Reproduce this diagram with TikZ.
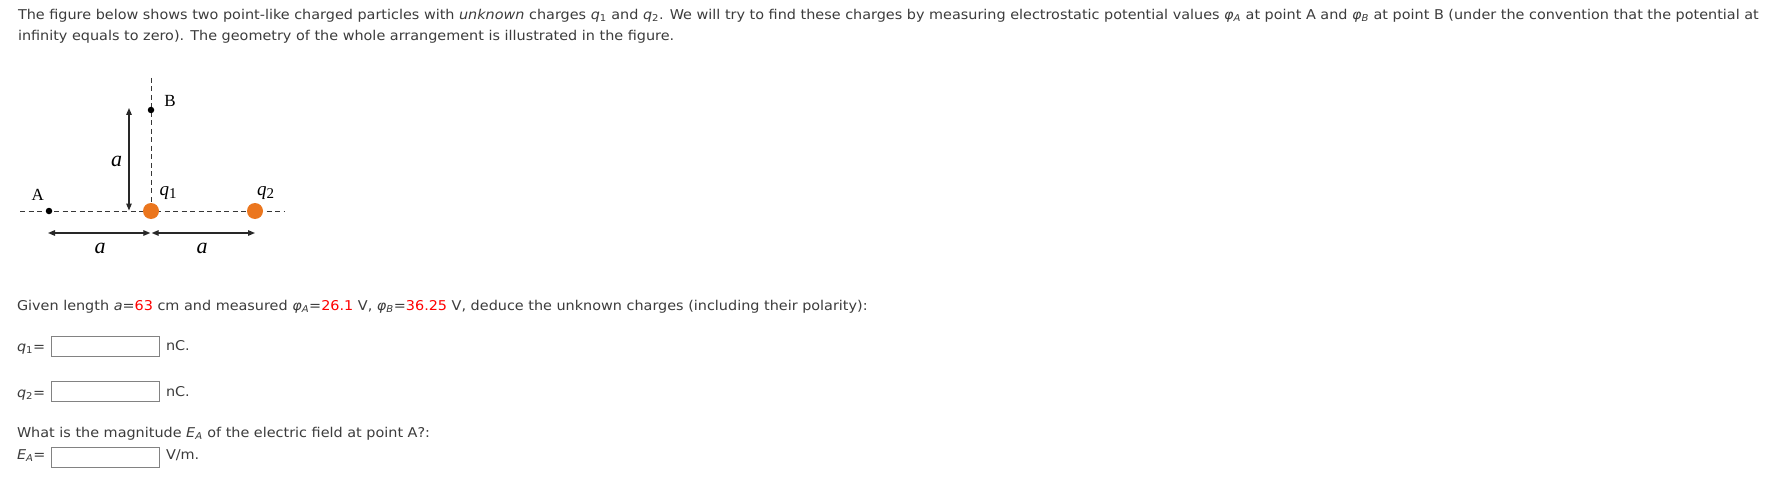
\documentclass[tikz,border=0pt]{standalone}
\usepackage{fontspec}
\setmainfont{DejaVu Sans}[FakeStretch=1.067]
\newfontfamily\figfont{Liberation Serif}
\usetikzlibrary{arrows.meta}
\definecolor{txt}{RGB}{60,60,60}
\definecolor{numred}{RGB}{255,0,0}
\definecolor{orng}{RGB}{235,118,30}
\definecolor{boxgray}{RGB}{130,130,130}
\definecolor{figline}{RGB}{40,40,40}
\definecolor{dashcol}{RGB}{55,55,55}
\newcommand\sbs[1]{\textsubscript{#1}}
\newcommand\isub[1]{\textsubscript{\itshape #1}}
\tikzset{
  body/.style={anchor=base west, text=txt, font=\fontsize{13.5}{15}\selectfont},
  ansbox/.style={draw=boxgray, line width=1pt, minimum width=108pt, minimum height=20pt, anchor=north west},
  dashline/.style={draw=dashcol, line width=1pt, dash pattern=on 5pt off 3.5pt},
  dimarrow/.style={draw=figline, line width=1.3pt, {Triangle[length=7pt,width=5.5pt]}-{Triangle[length=7pt,width=5.5pt]}},
  blackdot/.style={circle, fill=black, minimum size=6.5pt},
  charge/.style={circle, fill=orng, minimum size=16pt},
  flabel/.style={font=\figfont\fontsize{17}{17}\selectfont, text=black},
  falabel/.style={font=\figfont\itshape\fontsize{22}{22}\selectfont, text=black},
  qlabel/.style={font=\figfont\fontsize{19}{19}\selectfont, text=black, anchor=base},
}
\newcommand\qsub[1]{\raisebox{-3.5pt}{\fontsize{15}{15}\selectfont #1}}
\begin{document}
\begin{tikzpicture}[x=1pt,y=-1pt, every node/.style={inner sep=0pt, outer sep=0pt}]
\fill[white] (0,0) rectangle (1776,481);
\useasboundingbox (0,0) rectangle (1776,481);

% text
\node[body] (l1) at (18,19.5) {The figure below shows two point-like charged particles with \textit{unknown} charges \textit{q}\sbs{1} and \textit{q}\sbs{2}. We will try to find these charges by measuring electrostatic potential values \textit{φ}\isub{A} at point A and \textit{φ}\isub{B} at point B (under the convention that the potential at};
\node[body] (l2) at (18,41) {infinity equals to zero). The geometry of the whole arrangement is illustrated in the figure.};

\node[body] (l3) at (17,310.7) {Given length \textit{a}=\textcolor{numred}{63} cm and measured \textit{φ}\isub{A}=\textcolor{numred}{26.1} V, \textit{φ}\isub{B}=\textcolor{numred}{36.25} V, deduce the unknown charges (including their polarity):};

\node[body] (q1t) at (17,351) {\textit{q}\sbs{1}=};
\node[ansbox] (b1) at (51,336) {};
\node[body] (u1) at (166,350) {nC.};

\node[body] (q2t) at (17,397) {\textit{q}\sbs{2}=};
\node[ansbox] (b2) at (51,381) {};
\node[body] (u2) at (166,396) {nC.};

\node[body] (l4) at (17,437) {What is the magnitude \textit{E}\isub{A} of the electric field at point A?:};
\node[body] (eat) at (17,459) {\textit{E}\isub{A}=};
\node[ansbox] (b3) at (51,447) {};
\node[body] (u3) at (166,459) {V/m.};

% figure
\coordinate (hl) at (20,211);
\coordinate (hr) at (285,211);
\coordinate (vtop) at (151,78);
\draw[dashline] (hl) -- (hr);
\node[blackdot] (A) at (49,211) {};
\node[charge] (q1) at (151,211) {};
\node[charge] (q2) at (255,211) {};
\draw[dashline] (vtop) -- (q1.north);
\node[blackdot] (B) at (151,110) {};

\coordinate (vt) at (129,108);
\coordinate (vb) at (129,210.5);
\draw[dimarrow] (vt) -- (vb);
\coordinate (h1) at (48,233);
\coordinate (h2) at (150.3,233);
\coordinate (h3) at (151.7,233);
\coordinate (h4) at (255,233);
\draw[dimarrow] (h1) -- (h2);
\draw[dimarrow] (h3) -- (h4);

\node[flabel] (Alab) at (37.7,195) {A};
\node[flabel] (Blab) at (170,101) {B};
\node[falabel] (av) at (116.7,161) {a};
\node[falabel] (ah1) at (100,248) {a};
\node[falabel] (ah2) at (202,248) {a};
\node[qlabel] (q1lab) at (168,195) {\textit{q}\qsub{1}};
\node[qlabel] (q2lab) at (265.5,195) {\textit{q}\qsub{2}};
\end{tikzpicture}
\end{document}
